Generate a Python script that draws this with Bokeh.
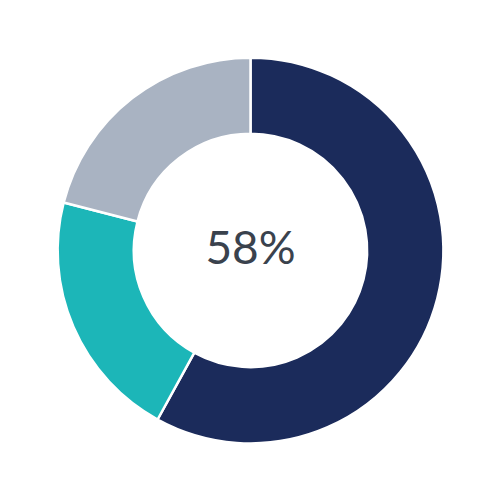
import numpy as np
from bokeh.plotting import figure
from bokeh.models import ColumnDataSource
from bokeh.core.properties import value
from bokeh.embed import file_html
from bokeh.resources import INLINE

categories = ["Segment A", "Segment B", "Segment C"]
values = [58, 21, 21]
colors = ["#1b2b5b", "#1cb6b8", "#a9b3c2"]
center_label = "58%"

total = sum(values)
fracs = np.array(values) / total
cum = np.concatenate([[0], np.cumsum(fracs)])
# clockwise from 12 o'clock
start = np.pi / 2 - cum[:-1] * 2 * np.pi
end = np.pi / 2 - cum[1:] * 2 * np.pi

src = ColumnDataSource(dict(cat=categories, start=start, end=end, color=colors))

W = 484
s = 242.0
p = figure(width=W, height=W, x_range=(-250 / s, (W - 250) / s),
           y_range=(-(W - 250) / s, 250 / s),
           output_backend="svg", toolbar_location=None, min_border=0)
p.axis.visible = False
p.grid.visible = False
p.outline_line_color = None
p.background_fill_color = "white"

p.annular_wedge(x=0, y=0, inner_radius=0.482, outer_radius=0.797,
                start_angle="end", end_angle="start", direction="anticlock",
                fill_color="color", line_color="white", line_width=2.5, source=src)

p.text(x=[0], y=[0.015], text=[center_label], text_align="center", text_baseline="middle",
       text_font=value("Lato"), text_font_size="46px", text_color="#3a424d")

open("out.html", "w").write(file_html(p, INLINE))
